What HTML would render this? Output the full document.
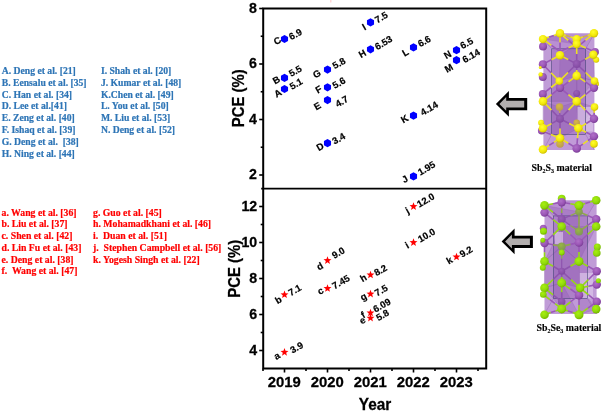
<!DOCTYPE html>
<html><head><meta charset="utf-8"><title>PCE vs Year</title>
<style>
html,body{margin:0;padding:0;background:#fff;}
body{width:602px;height:411px;overflow:hidden;position:relative;font-family:"Liberation Sans",sans-serif;}
svg{position:absolute;left:0;top:0;}
.ref{position:absolute;white-space:pre;font-family:"Liberation Serif",serif;font-weight:bold;font-size:9.68px;line-height:11.83px;-webkit-text-stroke:0.2px currentColor;}
.blue{color:#2e75b6;}
.red{color:#ff0000;line-height:11.72px;font-size:9.75px;}
.cap{position:absolute;white-space:pre;font-family:"Liberation Serif",serif;font-weight:bold;font-size:9.85px;color:#000;line-height:12px;-webkit-text-stroke:0.15px #000;}
.cap sub{font-size:6px;vertical-align:baseline;position:relative;top:2px;line-height:0;}
</style></head><body>

<div class="ref blue" id="bA" style="left:1.7px;top:64.9px">A. Deng et al. [21]
B. Eensalu et al. [35]
C. Han et al. [34]
D. Lee et al.[41]
E. Zeng et al. [40]
F. Ishaq et al. [39]
G. Deng et al.  [38]
H. Ning et al. [44]</div>
<div class="ref blue" id="bB" style="left:100.9px;top:64.9px">I. Shah et al. [20]
J. Kumar et al. [48]
K.Chen et al. [49]
L. You et al. [50]
M. Liu et al. [53]
N. Deng et al. [52]</div>
<div class="ref red" id="rA" style="left:1.5px;top:206.7px">a. Wang et al. [36]
b. Liu et al. [37]
c. Shen et al. [42]
d. Lin Fu et al. [43]
e. Deng et al. [38]
f.  Wang et al. [47]</div>
<div class="ref red" id="rB" style="left:93.0px;top:206.7px">g. Guo et al. [45]
h. Mohamadkhani et al. [46]
i.  Duan et al. [51]
j.  Stephen Campbell et al. [56]
k. Yogesh Singh et al. [22]</div>
<div class="cap" id="c1" style="left:531.6px;top:162px">Sb<sub>2</sub>S<sub>3</sub> material</div>
<div class="cap" id="c2" style="left:536.5px;top:321.9px">Sb<sub>2</sub>Se<sub>3</sub> material</div>
<svg width="602" height="411" viewBox="0 0 602 411" font-family="Liberation Sans, sans-serif" font-weight="bold">
<defs>
<radialGradient id="gy" cx="40%" cy="35%" r="70%"><stop offset="0" stop-color="#ffff30"/><stop offset="0.6" stop-color="#f2e80a"/><stop offset="1" stop-color="#c8b800"/></radialGradient>
<radialGradient id="gyd" cx="40%" cy="35%" r="70%"><stop offset="0" stop-color="#d8b848"/><stop offset="1" stop-color="#b89a50"/></radialGradient>
<radialGradient id="gg" cx="40%" cy="35%" r="70%"><stop offset="0" stop-color="#a8f010"/><stop offset="0.6" stop-color="#8fd808"/><stop offset="1" stop-color="#6fb000"/></radialGradient>
<radialGradient id="ggd" cx="40%" cy="35%" r="70%"><stop offset="0" stop-color="#98b840"/><stop offset="1" stop-color="#80925a"/></radialGradient>
<radialGradient id="gp" cx="40%" cy="35%" r="70%"><stop offset="0" stop-color="#b070c8"/><stop offset="0.6" stop-color="#9a55b5"/><stop offset="1" stop-color="#74388f"/></radialGradient>
<radialGradient id="gpd" cx="40%" cy="35%" r="70%"><stop offset="0" stop-color="#9a60b8"/><stop offset="1" stop-color="#8048a0"/></radialGradient>
<filter id="soft" x="-5%" y="-5%" width="110%" height="110%"><feGaussianBlur stdDeviation="0.35"/></filter>
</defs>
<g stroke="#000" stroke-width="2.0" fill="none">
<rect x="263.2" y="8.5" width="223" height="360"/>
<line x1="261.2" y1="188.6" x2="486.2" y2="188.6" stroke-width="1.9"/>
</g>
<g stroke="#000" stroke-width="1.6" fill="none">
<line x1="259.2" y1="175" x2="263.2" y2="175"/>
<line x1="259.2" y1="119.5" x2="263.2" y2="119.5"/>
<line x1="259.2" y1="64" x2="263.2" y2="64"/>
<line x1="259.2" y1="8.5" x2="263.2" y2="8.5"/>
<line x1="260.7" y1="147.25" x2="263.2" y2="147.25"/>
<line x1="260.7" y1="91.75" x2="263.2" y2="91.75"/>
<line x1="260.7" y1="36.25" x2="263.2" y2="36.25"/>
<line x1="259.2" y1="350.5" x2="263.2" y2="350.5"/>
<line x1="259.2" y1="314.5" x2="263.2" y2="314.5"/>
<line x1="259.2" y1="278.5" x2="263.2" y2="278.5"/>
<line x1="259.2" y1="242.5" x2="263.2" y2="242.5"/>
<line x1="259.2" y1="206.5" x2="263.2" y2="206.5"/>
<line x1="260.7" y1="332.5" x2="263.2" y2="332.5"/>
<line x1="260.7" y1="296.5" x2="263.2" y2="296.5"/>
<line x1="260.7" y1="260.5" x2="263.2" y2="260.5"/>
<line x1="260.7" y1="224.5" x2="263.2" y2="224.5"/>
<line x1="284.5" y1="368.5" x2="284.5" y2="372.5"/>
<line x1="327.5" y1="368.5" x2="327.5" y2="372.5"/>
<line x1="370.5" y1="368.5" x2="370.5" y2="372.5"/>
<line x1="413.5" y1="368.5" x2="413.5" y2="372.5"/>
<line x1="456.5" y1="368.5" x2="456.5" y2="372.5"/>
<line x1="263" y1="368.5" x2="263" y2="371"/>
<line x1="306" y1="368.5" x2="306" y2="371"/>
<line x1="349" y1="368.5" x2="349" y2="371"/>
<line x1="392" y1="368.5" x2="392" y2="371"/>
<line x1="435" y1="368.5" x2="435" y2="371"/>
<line x1="478" y1="368.5" x2="478" y2="371"/>
</g>
<g fill="#000" stroke="#000" stroke-width="0.25">
<text font-size="14.2" text-anchor="end" transform="translate(257,179.4) scale(1,1.085)">2</text>
<text font-size="14.2" text-anchor="end" transform="translate(257,123.9) scale(1,1.085)">4</text>
<text font-size="14.2" text-anchor="end" transform="translate(257,68.4) scale(1,1.085)">6</text>
<text font-size="14.2" text-anchor="end" transform="translate(257,12.9) scale(1,1.085)">8</text>
<text font-size="14.2" text-anchor="end" transform="translate(257.2,355.1) scale(1,1.085)">4</text>
<text font-size="14.2" text-anchor="end" transform="translate(257.2,319.1) scale(1,1.085)">6</text>
<text font-size="14.2" text-anchor="end" transform="translate(257.2,283.1) scale(1,1.085)">8</text>
<text font-size="14.2" text-anchor="end" transform="translate(257.2,247.1) scale(1,1.085)">10</text>
<text font-size="14.2" text-anchor="end" transform="translate(257.2,211.1) scale(1,1.085)">12</text>
<text font-size="14.9" text-anchor="middle" transform="translate(284.3,386.5) scale(1,1.045)">2019</text>
<text font-size="14.9" text-anchor="middle" transform="translate(327.3,386.5) scale(1,1.045)">2020</text>
<text font-size="14.9" text-anchor="middle" transform="translate(370.3,386.5) scale(1,1.045)">2021</text>
<text font-size="14.9" text-anchor="middle" transform="translate(413.3,386.5) scale(1,1.045)">2022</text>
<text font-size="14.9" text-anchor="middle" transform="translate(456.3,386.5) scale(1,1.045)">2023</text>
</g>
<text id="yl1" stroke="#000" stroke-width="0.25" font-size="14.9" text-anchor="middle" transform="translate(244.0,98.2) scale(1.09,1) rotate(-90)">PCE (%)</text>
<text id="yl2" stroke="#000" stroke-width="0.25" font-size="14.9" text-anchor="middle" transform="translate(240.4,268.8) scale(1.09,1) rotate(-90)">PCE (%)</text>
<text id="xl" font-size="15.4" text-anchor="middle" transform="translate(375,409.8) scale(1,1.03)" stroke="#000" stroke-width="0.25">Year</text>
<polygon points="284.50,84.88 280.95,86.93 280.95,91.03 284.50,93.08 288.05,91.03 288.05,86.93" fill="#0000ff"/>
<text stroke="#000" stroke-width="0.2" font-size="9.5" x="-3.43" y="3.27" transform="translate(277.8,93.1) rotate(-30)">A</text>
<text stroke="#000" stroke-width="0.2" font-size="9.5" x="-6.60" y="3.22" transform="translate(296.1,83.9) rotate(-30)">5.1</text>
<polygon points="284.50,73.78 280.95,75.83 280.95,79.92 284.50,81.97 288.05,79.92 288.05,75.83" fill="#0000ff"/>
<text stroke="#000" stroke-width="0.2" font-size="9.5" x="-3.43" y="3.27" transform="translate(276.4,79.9) rotate(-30)">B</text>
<text stroke="#000" stroke-width="0.2" font-size="9.5" x="-6.60" y="3.22" transform="translate(295.3,71.0) rotate(-30)">5.5</text>
<polygon points="284.50,34.92 280.95,36.97 280.95,41.07 284.50,43.12 288.05,41.07 288.05,36.97" fill="#0000ff"/>
<text stroke="#000" stroke-width="0.2" font-size="9.5" x="-3.43" y="3.27" transform="translate(277.4,40.7) rotate(-30)">C</text>
<text stroke="#000" stroke-width="0.2" font-size="9.5" x="-6.60" y="3.27" transform="translate(295.4,34.2) rotate(-30)">6.9</text>
<polygon points="327.50,138.99 323.95,141.04 323.95,145.14 327.50,147.19 331.05,145.14 331.05,141.04" fill="#0000ff"/>
<text stroke="#000" stroke-width="0.2" font-size="9.5" x="-3.43" y="3.27" transform="translate(320.1,146.6) rotate(-30)">D</text>
<text stroke="#000" stroke-width="0.2" font-size="9.5" x="-6.60" y="3.26" transform="translate(338.7,138.7) rotate(-30)">3.4</text>
<polygon points="327.50,95.97 323.95,98.02 323.95,102.12 327.50,104.17 331.05,102.12 331.05,98.02" fill="#0000ff"/>
<text stroke="#000" stroke-width="0.2" font-size="9.5" x="-3.17" y="3.27" transform="translate(317.3,106.2) rotate(-30)">E</text>
<text stroke="#000" stroke-width="0.2" font-size="9.5" x="-6.60" y="3.27" transform="translate(341.8,101.4) rotate(-30)">4.7</text>
<polygon points="327.50,83.21 323.95,85.26 323.95,89.36 327.50,91.41 331.05,89.36 331.05,85.26" fill="#0000ff"/>
<text stroke="#000" stroke-width="0.2" font-size="9.5" x="-2.90" y="3.27" transform="translate(318.7,89.4) rotate(-30)">F</text>
<text stroke="#000" stroke-width="0.2" font-size="9.5" x="-6.60" y="3.27" transform="translate(338.9,82.9) rotate(-30)">5.6</text>
<polygon points="327.50,65.45 323.95,67.50 323.95,71.60 327.50,73.65 331.05,71.60 331.05,67.50" fill="#0000ff"/>
<text stroke="#000" stroke-width="0.2" font-size="9.5" x="-3.70" y="3.27" transform="translate(316.8,73.9) rotate(-30)">G</text>
<text stroke="#000" stroke-width="0.2" font-size="9.5" x="-6.60" y="3.27" transform="translate(338.9,63.2) rotate(-30)">5.8</text>
<polygon points="370.50,45.19 366.95,47.24 366.95,51.34 370.50,53.39 374.05,51.34 374.05,47.24" fill="#0000ff"/>
<text stroke="#000" stroke-width="0.2" font-size="9.5" x="-3.43" y="3.27" transform="translate(362.4,53.8) rotate(-30)">H</text>
<text stroke="#000" stroke-width="0.2" font-size="9.5" x="-9.24" y="3.26" transform="translate(383.5,42.7) rotate(-30)">6.53</text>
<polygon points="370.50,18.27 366.95,20.32 366.95,24.43 370.50,26.48 374.05,24.43 374.05,20.32" fill="#0000ff"/>
<text stroke="#000" stroke-width="0.2" font-size="9.5" x="-1.32" y="3.27" transform="translate(364.1,26.9) rotate(-30)">I</text>
<text stroke="#000" stroke-width="0.2" font-size="9.5" x="-6.60" y="3.22" transform="translate(381.3,17.4) rotate(-30)">7.5</text>
<polygon points="413.50,172.29 409.95,174.34 409.95,178.44 413.50,180.49 417.05,178.44 417.05,174.34" fill="#0000ff"/>
<text stroke="#000" stroke-width="0.2" font-size="9.5" x="-2.64" y="3.22" transform="translate(405.0,179.2) rotate(-30)">J</text>
<text stroke="#000" stroke-width="0.2" font-size="9.5" x="-9.24" y="3.27" transform="translate(426.5,168.2) rotate(-30)">1.95</text>
<polygon points="413.50,111.52 409.95,113.57 409.95,117.67 413.50,119.72 417.05,117.67 417.05,113.57" fill="#0000ff"/>
<text stroke="#000" stroke-width="0.2" font-size="9.5" x="-3.43" y="3.27" transform="translate(404.6,119.0) rotate(-30)">K</text>
<text stroke="#000" stroke-width="0.2" font-size="9.5" x="-9.24" y="3.27" transform="translate(429.1,108.5) rotate(-30)">4.14</text>
<polygon points="413.50,43.25 409.95,45.30 409.95,49.40 413.50,51.45 417.05,49.40 417.05,45.30" fill="#0000ff"/>
<text stroke="#000" stroke-width="0.2" font-size="9.5" x="-2.90" y="3.27" transform="translate(405.3,52.4) rotate(-30)">L</text>
<text stroke="#000" stroke-width="0.2" font-size="9.5" x="-6.60" y="3.27" transform="translate(424.2,41.2) rotate(-30)">6.6</text>
<polygon points="456.50,56.02 452.95,58.07 452.95,62.17 456.50,64.22 460.05,62.17 460.05,58.07" fill="#0000ff"/>
<text stroke="#000" stroke-width="0.2" font-size="9.5" x="-3.96" y="3.27" transform="translate(448.7,68.2) rotate(-30)">M</text>
<text stroke="#000" stroke-width="0.2" font-size="9.5" x="-9.24" y="3.27" transform="translate(471.1,55.8) rotate(-30)">6.14</text>
<polygon points="456.50,46.02 452.95,48.08 452.95,52.17 456.50,54.23 460.05,52.18 460.05,48.08" fill="#0000ff"/>
<text stroke="#000" stroke-width="0.2" font-size="9.5" x="-3.43" y="3.27" transform="translate(447.6,54.7) rotate(-30)">N</text>
<text stroke="#000" stroke-width="0.2" font-size="9.5" x="-6.60" y="3.27" transform="translate(466.6,43.2) rotate(-30)">6.5</text>
<polygon points="284.50,348.10 283.46,350.87 280.51,351.00 282.82,352.85 282.03,355.70 284.50,354.06 286.97,355.70 286.18,352.85 288.49,351.00 285.54,350.87" fill="#ff0000"/>
<text stroke="#000" stroke-width="0.2" font-size="9.5" x="-2.67" y="2.51" transform="translate(277.2,356.4) rotate(-30)">a</text>
<text stroke="#000" stroke-width="0.2" font-size="9.5" x="-6.60" y="3.26" transform="translate(296.6,347.6) rotate(-30)">3.9</text>
<polygon points="284.50,290.50 283.46,293.27 280.51,293.40 282.82,295.25 282.03,298.10 284.50,296.46 286.97,298.10 286.18,295.25 288.49,293.40 285.54,293.27" fill="#ff0000"/>
<text stroke="#000" stroke-width="0.2" font-size="9.5" x="-2.90" y="3.40" transform="translate(278.2,299.9) rotate(-30)">b</text>
<text stroke="#000" stroke-width="0.2" font-size="9.5" x="-6.60" y="3.27" transform="translate(294.7,290.1) rotate(-30)">7.1</text>
<polygon points="327.50,284.20 326.46,286.97 323.51,287.10 325.82,288.95 325.03,291.80 327.50,290.16 329.97,291.80 329.18,288.95 331.49,287.10 328.54,286.97" fill="#ff0000"/>
<text stroke="#000" stroke-width="0.2" font-size="9.5" x="-2.64" y="2.51" transform="translate(320.7,291.5) rotate(-30)">c</text>
<text stroke="#000" stroke-width="0.2" font-size="9.5" x="-9.24" y="3.22" transform="translate(340.9,282.0) rotate(-30)">7.45</text>
<polygon points="327.50,256.30 326.46,259.07 323.51,259.20 325.82,261.05 325.03,263.90 327.50,262.26 329.97,263.90 329.18,261.05 331.49,259.20 328.54,259.07" fill="#ff0000"/>
<text stroke="#000" stroke-width="0.2" font-size="9.5" x="-2.90" y="3.40" transform="translate(319.7,266.0) rotate(-30)">d</text>
<text stroke="#000" stroke-width="0.2" font-size="9.5" x="-6.60" y="3.27" transform="translate(338.2,252.8) rotate(-30)">9.0</text>
<polygon points="370.50,313.90 369.46,316.67 366.51,316.80 368.82,318.65 368.03,321.50 370.50,319.86 372.97,321.50 372.18,318.65 374.49,316.80 371.54,316.67" fill="#ff0000"/>
<text stroke="#000" stroke-width="0.2" font-size="9.5" x="-2.64" y="2.51" transform="translate(362.8,320.9) rotate(-30)">e</text>
<text stroke="#000" stroke-width="0.2" font-size="9.5" x="-6.60" y="3.27" transform="translate(382.5,315.0) rotate(-30)">5.8</text>
<polygon points="370.50,308.68 369.46,311.45 366.51,311.58 368.82,313.43 368.03,316.28 370.50,314.64 372.97,316.28 372.18,313.43 374.49,311.58 371.54,311.45" fill="#ff0000"/>
<text stroke="#000" stroke-width="0.2" font-size="9.5" x="-1.59" y="3.44" transform="translate(362.8,314.6) rotate(-30)">f</text>
<text stroke="#000" stroke-width="0.2" font-size="9.5" x="-9.24" y="3.27" transform="translate(381.8,305.3) rotate(-30)">6.09</text>
<polygon points="370.50,289.78 369.46,292.55 366.51,292.68 368.82,294.53 368.03,297.38 370.50,295.74 372.97,297.38 372.18,294.53 374.49,292.68 371.54,292.55" fill="#ff0000"/>
<text stroke="#000" stroke-width="0.2" font-size="9.5" x="-2.90" y="1.55" transform="translate(364.3,298.2) rotate(-30)">g</text>
<text stroke="#000" stroke-width="0.2" font-size="9.5" x="-6.60" y="3.22" transform="translate(381.2,290.4) rotate(-30)">7.5</text>
<polygon points="370.50,270.70 369.46,273.47 366.51,273.60 368.82,275.45 368.03,278.30 370.50,276.66 372.97,278.30 372.18,275.45 374.49,273.60 371.54,273.47" fill="#ff0000"/>
<text stroke="#000" stroke-width="0.2" font-size="9.5" x="-2.90" y="3.44" transform="translate(363.3,277.9) rotate(-30)">h</text>
<text stroke="#000" stroke-width="0.2" font-size="9.5" x="-6.60" y="3.27" transform="translate(380.5,270.2) rotate(-30)">8.2</text>
<polygon points="413.50,238.30 412.46,241.07 409.51,241.20 411.82,243.05 411.03,245.90 413.50,244.26 415.97,245.90 415.18,243.05 417.49,241.20 414.54,241.07" fill="#ff0000"/>
<text stroke="#000" stroke-width="0.2" font-size="9.5" x="-1.32" y="3.44" transform="translate(406.8,245.2) rotate(-30)">i</text>
<text stroke="#000" stroke-width="0.2" font-size="9.5" x="-9.24" y="3.27" transform="translate(426.5,235.3) rotate(-30)">10.0</text>
<polygon points="413.50,202.30 412.46,205.07 409.51,205.20 411.82,207.05 411.03,209.90 413.50,208.26 415.97,209.90 415.18,207.05 417.49,205.20 414.54,205.07" fill="#ff0000"/>
<text stroke="#000" stroke-width="0.2" font-size="9.5" x="-1.24" y="2.46" transform="translate(407.5,211.2) rotate(-30)">j</text>
<text stroke="#000" stroke-width="0.2" font-size="9.5" x="-9.24" y="3.27" transform="translate(425.7,200.2) rotate(-30)">12.0</text>
<polygon points="456.50,252.70 455.46,255.47 452.51,255.60 454.82,257.45 454.03,260.30 456.50,258.66 458.97,260.30 458.18,257.45 460.49,255.60 457.54,255.47" fill="#ff0000"/>
<text stroke="#000" stroke-width="0.2" font-size="9.5" x="-2.65" y="3.44" transform="translate(449.2,260.3) rotate(-30)">k</text>
<text stroke="#000" stroke-width="0.2" font-size="9.5" x="-6.60" y="3.27" transform="translate(466.0,251.7) rotate(-30)">9.2</text>
<rect x="330" y="0" width="1.5" height="2.5" fill="#ffd9d9"/>
<polygon points="495.9,103.9 508.9,90.9 508.9,98.1 527.2,98.1 527.2,110.3 508.9,110.3 508.9,116.7" fill="#000"/><polygon points="499.4,103.9 506.2,97.0 506.2,100.8 524.2,100.8 524.2,107.5 506.2,107.5 506.2,110.8" fill="#b2aeae"/>
<polygon points="501.6,241.5 514.6,228.5 514.6,235.7 532.9,235.7 532.9,247.9 514.6,247.9 514.6,254.3" fill="#000"/><polygon points="505.1,241.5 511.9,234.6 511.9,238.4 529.9,238.4 529.9,245.1 511.9,245.1 511.9,248.4" fill="#b2aeae"/>
<g filter="url(#soft)">
<polygon points="543.4,39.5 559.9,33.5 594.4,33.5 594.4,150 543.4,150" fill="#c09cd7"/>
<polygon points="543.4,39.5 559.9,33.5 594.4,33.5 585.6,48.8 551.7,48.8" fill="#b98fd2"/>
<polygon points="543.4,150 594.4,150 585.6,134.3 551.7,134.3" fill="#c19ad8"/>
<rect x="551.7" y="48.8" width="33.9" height="85.5" fill="#ad80c8"/>
<polygon points="543.0,39.1 560.0,33.3 576.7,44.1" fill="#7a3fa0" fill-opacity="0.22" stroke="#8a56ac" stroke-opacity="0.5" stroke-width="0.5"/>
<polygon points="560.0,55.3 576.7,44.1 593.4,54.7 594.5,81.1 576.7,75.9 559.3,81.1" fill="#7a3fa0" fill-opacity="0.22" stroke="#8a56ac" stroke-opacity="0.5" stroke-width="0.5"/>
<polygon points="576.7,75.9 576.7,101.4 543.0,101.4" fill="#7a3fa0" fill-opacity="0.22" stroke="#8a56ac" stroke-opacity="0.5" stroke-width="0.5"/>
<polygon points="576.7,75.9 594.5,81.1 576.7,101.4" fill="#7a3fa0" fill-opacity="0.22" stroke="#8a56ac" stroke-opacity="0.5" stroke-width="0.5"/>
<polygon points="543.0,101.4 559.5,107.1 576.7,101.4 578.4,128.2 560.0,138.2 543.0,128.3" fill="#7a3fa0" fill-opacity="0.22" stroke="#8a56ac" stroke-opacity="0.5" stroke-width="0.5"/>
<polygon points="576.7,101.4 594.5,107.1 578.4,128.2" fill="#7a3fa0" fill-opacity="0.22" stroke="#8a56ac" stroke-opacity="0.5" stroke-width="0.5"/>
<rect x="577.5" y="107" width="15.5" height="24.5" fill="#dcc6ea" fill-opacity="0.7"/>
<rect x="551.7" y="48.8" width="33.9" height="85.5" fill="none" stroke="#46467a" stroke-width="0.6"/>
<g stroke="#8d62ad" stroke-width="0.5" stroke-opacity="0.8"><line x1="543.4" y1="39.5" x2="551.7" y2="48.8"/><line x1="594.4" y1="33.5" x2="585.6" y2="48.8"/><line x1="543.4" y1="150" x2="551.7" y2="134.3"/><line x1="594.4" y1="150" x2="585.6" y2="134.3"/></g>
<line x1="543.0" y1="39.1" x2="551.5" y2="45.3" stroke="#ece024" stroke-width="1.6"/>
<line x1="551.5" y1="45.3" x2="560.0" y2="51.5" stroke="#9a58b8" stroke-width="1.6"/>
<line x1="560.0" y1="33.3" x2="560.0" y2="42.4" stroke="#ece024" stroke-width="1.6"/>
<line x1="560.0" y1="42.4" x2="560.0" y2="51.5" stroke="#9a58b8" stroke-width="1.6"/>
<line x1="576.7" y1="44.1" x2="568.4" y2="47.8" stroke="#ece024" stroke-width="1.6"/>
<line x1="568.4" y1="47.8" x2="560.0" y2="51.5" stroke="#9a58b8" stroke-width="1.6"/>
<line x1="560.0" y1="33.3" x2="568.4" y2="40.4" stroke="#ece024" stroke-width="1.6"/>
<line x1="568.4" y1="40.4" x2="576.7" y2="47.5" stroke="#9a58b8" stroke-width="1.6"/>
<line x1="594.0" y1="33.3" x2="585.4" y2="40.4" stroke="#ece024" stroke-width="1.6"/>
<line x1="585.4" y1="40.4" x2="576.7" y2="47.5" stroke="#9a58b8" stroke-width="1.6"/>
<line x1="576.7" y1="44.1" x2="576.7" y2="54.0" stroke="#ece024" stroke-width="1.6"/>
<line x1="576.7" y1="54.0" x2="576.7" y2="64.0" stroke="#8e54ae" stroke-width="1.6"/>
<line x1="560.0" y1="55.3" x2="568.4" y2="59.6" stroke="#ece024" stroke-width="1.6"/>
<line x1="568.4" y1="59.6" x2="576.7" y2="64.0" stroke="#8e54ae" stroke-width="1.6"/>
<line x1="593.4" y1="54.7" x2="585.0" y2="59.4" stroke="#ece024" stroke-width="1.6"/>
<line x1="585.0" y1="59.4" x2="576.7" y2="64.0" stroke="#8e54ae" stroke-width="1.6"/>
<line x1="576.7" y1="75.9" x2="576.7" y2="70.0" stroke="#ece024" stroke-width="1.6"/>
<line x1="576.7" y1="70.0" x2="576.7" y2="64.0" stroke="#8e54ae" stroke-width="1.6"/>
<line x1="543.0" y1="101.4" x2="551.5" y2="110.1" stroke="#ece024" stroke-width="1.6"/>
<line x1="551.5" y1="110.1" x2="560.0" y2="118.8" stroke="#8e54ae" stroke-width="1.6"/>
<line x1="576.7" y1="101.4" x2="568.4" y2="110.1" stroke="#ece024" stroke-width="1.6"/>
<line x1="568.4" y1="110.1" x2="560.0" y2="118.8" stroke="#8e54ae" stroke-width="1.6"/>
<line x1="559.5" y1="107.1" x2="559.8" y2="112.9" stroke="#cdb04e" stroke-width="1.2"/>
<line x1="559.8" y1="112.9" x2="560.0" y2="118.8" stroke="#8e54ae" stroke-width="1.2"/>
<line x1="560.0" y1="118.8" x2="551.5" y2="123.6" stroke="#8e54ae" stroke-width="1.6"/>
<line x1="551.5" y1="123.6" x2="543.0" y2="128.3" stroke="#ece024" stroke-width="1.6"/>
<line x1="560.0" y1="118.8" x2="569.2" y2="123.5" stroke="#8e54ae" stroke-width="1.6"/>
<line x1="569.2" y1="123.5" x2="578.4" y2="128.2" stroke="#ece024" stroke-width="1.6"/>
<line x1="560.0" y1="118.8" x2="560.0" y2="128.5" stroke="#8e54ae" stroke-width="1.6"/>
<line x1="560.0" y1="128.5" x2="560.0" y2="138.2" stroke="#ece024" stroke-width="1.6"/>
<line x1="576.7" y1="64.0" x2="568.0" y2="72.5" stroke="#8e54ae" stroke-width="1.6"/>
<line x1="568.0" y1="72.5" x2="559.3" y2="81.1" stroke="#ece024" stroke-width="1.6"/>
<line x1="576.7" y1="64.0" x2="585.6" y2="72.5" stroke="#8e54ae" stroke-width="1.6"/>
<line x1="585.6" y1="72.5" x2="594.5" y2="81.1" stroke="#ece024" stroke-width="1.6"/>
<line x1="576.7" y1="44.1" x2="585.9" y2="48.0" stroke="#ece024" stroke-width="1.6"/>
<line x1="585.9" y1="48.0" x2="595.1" y2="51.9" stroke="#9a58b8" stroke-width="1.6"/>
<line x1="560.0" y1="55.3" x2="551.4" y2="59.8" stroke="#ece024" stroke-width="1.6"/>
<line x1="551.4" y1="59.8" x2="542.8" y2="64.3" stroke="#9a58b8" stroke-width="1.6"/>
<line x1="576.7" y1="75.9" x2="568.4" y2="81.8" stroke="#ece024" stroke-width="1.6"/>
<line x1="568.4" y1="81.8" x2="560.0" y2="87.8" stroke="#9a58b8" stroke-width="1.6"/>
<line x1="576.7" y1="75.9" x2="585.4" y2="81.8" stroke="#ece024" stroke-width="1.6"/>
<line x1="585.4" y1="81.8" x2="594.0" y2="87.8" stroke="#9a58b8" stroke-width="1.6"/>
<line x1="559.3" y1="81.1" x2="551.0" y2="72.7" stroke="#ece024" stroke-width="1.6"/>
<line x1="551.0" y1="72.7" x2="542.8" y2="64.3" stroke="#9a58b8" stroke-width="1.6"/>
<line x1="559.3" y1="81.1" x2="551.0" y2="87.5" stroke="#ece024" stroke-width="1.6"/>
<line x1="551.0" y1="87.5" x2="542.8" y2="93.9" stroke="#9a58b8" stroke-width="1.6"/>
<line x1="560.0" y1="87.8" x2="551.5" y2="94.6" stroke="#9a58b8" stroke-width="1.6"/>
<line x1="551.5" y1="94.6" x2="543.0" y2="101.4" stroke="#ece024" stroke-width="1.6"/>
<line x1="560.0" y1="87.8" x2="568.4" y2="94.6" stroke="#9a58b8" stroke-width="1.6"/>
<line x1="568.4" y1="94.6" x2="576.7" y2="101.4" stroke="#ece024" stroke-width="1.6"/>
<line x1="594.0" y1="87.8" x2="585.4" y2="94.6" stroke="#9a58b8" stroke-width="1.6"/>
<line x1="585.4" y1="94.6" x2="576.7" y2="101.4" stroke="#ece024" stroke-width="1.6"/>
<line x1="542.8" y1="93.9" x2="542.9" y2="97.7" stroke="#9a58b8" stroke-width="1.6"/>
<line x1="542.9" y1="97.7" x2="543.0" y2="101.4" stroke="#ece024" stroke-width="1.6"/>
<line x1="594.5" y1="81.1" x2="594.2" y2="84.4" stroke="#ece024" stroke-width="1.6"/>
<line x1="594.2" y1="84.4" x2="594.0" y2="87.8" stroke="#9a58b8" stroke-width="1.6"/>
<line x1="576.7" y1="101.4" x2="585.4" y2="110.1" stroke="#ece024" stroke-width="1.6"/>
<line x1="585.4" y1="110.1" x2="594.0" y2="118.8" stroke="#9a58b8" stroke-width="1.6"/>
<line x1="594.5" y1="107.1" x2="594.2" y2="112.9" stroke="#ece024" stroke-width="1.6"/>
<line x1="594.2" y1="112.9" x2="594.0" y2="118.8" stroke="#9a58b8" stroke-width="1.6"/>
<line x1="578.4" y1="128.2" x2="586.2" y2="123.5" stroke="#ece024" stroke-width="1.6"/>
<line x1="586.2" y1="123.5" x2="594.0" y2="118.8" stroke="#9a58b8" stroke-width="1.6"/>
<line x1="578.4" y1="128.2" x2="586.2" y2="132.3" stroke="#ece024" stroke-width="1.6"/>
<line x1="586.2" y1="132.3" x2="594.0" y2="136.4" stroke="#9a58b8" stroke-width="1.6"/>
<line x1="578.4" y1="128.2" x2="577.5" y2="138.3" stroke="#ece024" stroke-width="1.6"/>
<line x1="577.5" y1="138.3" x2="576.7" y2="148.4" stroke="#9a58b8" stroke-width="1.6"/>
<line x1="541.7" y1="130.8" x2="550.9" y2="134.5" stroke="#9a58b8" stroke-width="1.6"/>
<line x1="550.9" y1="134.5" x2="560.0" y2="138.2" stroke="#ece024" stroke-width="1.6"/>
<line x1="560.0" y1="138.2" x2="568.4" y2="143.3" stroke="#ece024" stroke-width="1.6"/>
<line x1="568.4" y1="143.3" x2="576.7" y2="148.4" stroke="#9a58b8" stroke-width="1.6"/>
<line x1="594.0" y1="136.4" x2="594.0" y2="140.2" stroke="#9a58b8" stroke-width="1.6"/>
<line x1="594.0" y1="140.2" x2="594.0" y2="143.9" stroke="#ece024" stroke-width="1.6"/>
<line x1="594.0" y1="136.4" x2="587.8" y2="140.7" stroke="#9a58b8" stroke-width="1.6"/>
<line x1="587.8" y1="140.7" x2="582.9" y2="144.1" stroke="#ece024" stroke-width="1.6"/>
<line x1="582.9" y1="144.1" x2="576.7" y2="148.4" stroke="#9a58b8" stroke-width="1.6"/>
<line x1="543.0" y1="46.4" x2="543.0" y2="42.8" stroke="#9a58b8" stroke-width="1.6"/>
<line x1="543.0" y1="42.8" x2="543.0" y2="39.1" stroke="#ece024" stroke-width="1.6"/>
<line x1="542.8" y1="76.9" x2="541.7" y2="75.7" stroke="#9a58b8" stroke-width="1.6"/>
<line x1="541.7" y1="75.7" x2="540.6" y2="74.5" stroke="#ece024" stroke-width="1.6"/>
<line x1="543.0" y1="39.1" x2="549.1" y2="37.0" stroke="#ece024" stroke-width="1.6"/>
<line x1="549.1" y1="37.0" x2="553.9" y2="35.4" stroke="#9a58b8" stroke-width="1.6"/>
<line x1="553.9" y1="35.4" x2="560.0" y2="33.3" stroke="#ece024" stroke-width="1.6"/>
<line x1="560.0" y1="33.3" x2="566.0" y2="35.4" stroke="#ece024" stroke-width="1.6"/>
<line x1="566.0" y1="35.4" x2="570.7" y2="37.0" stroke="#cdb04e" stroke-width="1.6"/>
<line x1="570.7" y1="37.0" x2="576.7" y2="39.1" stroke="#ece024" stroke-width="1.6"/>
<line x1="576.7" y1="39.1" x2="582.9" y2="37.0" stroke="#ece024" stroke-width="1.6"/>
<line x1="582.9" y1="37.0" x2="587.8" y2="35.4" stroke="#cdb04e" stroke-width="1.6"/>
<line x1="587.8" y1="35.4" x2="594.0" y2="33.3" stroke="#ece024" stroke-width="1.6"/>
<line x1="560.0" y1="138.2" x2="553.9" y2="142.3" stroke="#ece024" stroke-width="1.6"/>
<line x1="553.9" y1="142.3" x2="549.1" y2="145.4" stroke="#9a58b8" stroke-width="1.6"/>
<line x1="549.1" y1="145.4" x2="543.0" y2="149.5" stroke="#ece024" stroke-width="1.6"/>
<circle cx="576.7" cy="64.0" r="4.0" fill="url(#gpd)"/>
<circle cx="576.7" cy="93.4" r="3.5" fill="url(#gpd)"/>
<circle cx="560.0" cy="118.8" r="4.0" fill="url(#gpd)"/>
<circle cx="559.5" cy="107.1" r="3.8" fill="url(#gyd)"/>
<circle cx="576.7" cy="122.7" r="3.3" fill="url(#gyd)"/>
<circle cx="560.0" cy="143.9" r="3.8" fill="url(#gyd)"/>
<circle cx="596.2" cy="59.7" r="3.0" fill="url(#gy)"/>
<circle cx="596.2" cy="83.9" r="2.8" fill="url(#gy)"/>
<circle cx="543.0" cy="46.4" r="4.0" fill="url(#gp)"/>
<circle cx="595.1" cy="51.9" r="3.8" fill="url(#gp)"/>
<circle cx="542.8" cy="64.3" r="4.0" fill="url(#gp)"/>
<circle cx="542.8" cy="76.9" r="4.0" fill="url(#gp)"/>
<circle cx="560.0" cy="87.8" r="4.2" fill="url(#gp)"/>
<circle cx="594.0" cy="87.8" r="4.2" fill="url(#gp)"/>
<circle cx="542.8" cy="93.9" r="4.0" fill="url(#gp)"/>
<circle cx="594.0" cy="118.8" r="4.2" fill="url(#gp)"/>
<circle cx="541.7" cy="130.8" r="3.8" fill="url(#gp)"/>
<circle cx="594.0" cy="136.4" r="4.2" fill="url(#gp)"/>
<circle cx="576.7" cy="148.4" r="4.3" fill="url(#gp)"/>
<circle cx="560.0" cy="33.3" r="4.2" fill="url(#gy)"/>
<circle cx="594.0" cy="33.3" r="4.2" fill="url(#gy)"/>
<circle cx="543.0" cy="39.1" r="4.2" fill="url(#gy)"/>
<circle cx="576.7" cy="39.1" r="4.2" fill="url(#gy)"/>
<circle cx="576.7" cy="44.1" r="4.2" fill="url(#gy)"/>
<circle cx="593.4" cy="54.7" r="4.2" fill="url(#gy)"/>
<circle cx="560.0" cy="55.3" r="4.2" fill="url(#gy)"/>
<circle cx="540.3" cy="67.5" r="1.5" fill="url(#gy)"/>
<circle cx="540.6" cy="74.5" r="2.2" fill="url(#gy)"/>
<circle cx="576.7" cy="75.9" r="4.3" fill="url(#gy)"/>
<circle cx="559.3" cy="81.1" r="3.8" fill="url(#gy)"/>
<circle cx="594.5" cy="81.1" r="3.8" fill="url(#gy)"/>
<circle cx="543.0" cy="101.4" r="4.3" fill="url(#gy)"/>
<circle cx="576.7" cy="101.4" r="4.3" fill="url(#gy)"/>
<circle cx="594.5" cy="107.1" r="3.8" fill="url(#gy)"/>
<circle cx="541.1" cy="122.7" r="3.0" fill="url(#gy)"/>
<circle cx="578.4" cy="128.2" r="4.3" fill="url(#gy)"/>
<circle cx="543.0" cy="128.3" r="4.3" fill="url(#gy)"/>
<circle cx="560.0" cy="138.2" r="4.3" fill="url(#gy)"/>
<circle cx="594.0" cy="143.9" r="3.8" fill="url(#gy)"/>
<circle cx="543.0" cy="149.5" r="4.3" fill="url(#gy)"/>
</g>
<g filter="url(#soft)">
<polygon points="544.5,206.5 561.5,200.5 596.6,200.5 596.6,313.9 544.5,313.9" fill="#c09cd7"/>
<polygon points="544.5,206.5 561.5,200.5 596.6,200.5 587.3,215.9 553.4,215.9" fill="#b98fd2"/>
<polygon points="544.5,313.9 596.6,313.9 587.3,298.5 553.4,298.5" fill="#c19ad8"/>
<rect x="553.4" y="215.9" width="33.9" height="82.6" fill="#ad80c8"/>
<polygon points="544.5,205.4 579.0,211.8 579.0,231.5" fill="#7a3fa0" fill-opacity="0.22" stroke="#8a56ac" stroke-opacity="0.5" stroke-width="0.5"/>
<polygon points="561.7,226.5 561.7,246.4 544.5,261.4" fill="#7a3fa0" fill-opacity="0.22" stroke="#8a56ac" stroke-opacity="0.5" stroke-width="0.5"/>
<polygon points="561.7,226.5 596.2,226.5 579.0,261.4 561.7,246.4" fill="#7a3fa0" fill-opacity="0.22" stroke="#8a56ac" stroke-opacity="0.5" stroke-width="0.5"/>
<polygon points="544.5,261.4 561.7,246.4 579.0,261.4 580.1,287.9 561.7,282.9 544.5,287.9" fill="#7a3fa0" fill-opacity="0.22" stroke="#8a56ac" stroke-opacity="0.5" stroke-width="0.5"/>
<polygon points="561.7,282.9 579.0,314.7 561.7,308.9" fill="#7a3fa0" fill-opacity="0.22" stroke="#8a56ac" stroke-opacity="0.5" stroke-width="0.5"/>
<polygon points="580.1,287.9 596.2,309.1 579.0,314.7" fill="#7a3fa0" fill-opacity="0.22" stroke="#8a56ac" stroke-opacity="0.5" stroke-width="0.5"/>
<polygon points="544.5,287.9 561.7,282.9 561.7,308.9" fill="#7a3fa0" fill-opacity="0.22" stroke="#8a56ac" stroke-opacity="0.5" stroke-width="0.5"/>
<rect x="579.8" y="273" width="13.2" height="25.5" fill="#dcc6ea" fill-opacity="0.7"/>
<rect x="555" y="232" width="8" height="12" fill="#dcc6ea" fill-opacity="0.7"/>
<rect x="553.4" y="215.9" width="33.9" height="82.6" fill="none" stroke="#46467a" stroke-width="0.6"/>
<g stroke="#8d62ad" stroke-width="0.5" stroke-opacity="0.8"><line x1="544.5" y1="206.5" x2="553.4" y2="215.9"/><line x1="596.6" y1="200.5" x2="587.3" y2="215.9"/><line x1="544.5" y1="313.9" x2="553.4" y2="298.5"/><line x1="596.6" y1="313.9" x2="587.3" y2="298.5"/></g>
<line x1="544.5" y1="205.4" x2="553.1" y2="212.4" stroke="#96d816" stroke-width="1.6"/>
<line x1="553.1" y1="212.4" x2="561.7" y2="219.3" stroke="#8e54ae" stroke-width="1.6"/>
<line x1="561.7" y1="202.2" x2="561.7" y2="208.4" stroke="#9a58b8" stroke-width="1.6"/>
<line x1="561.7" y1="208.4" x2="561.7" y2="213.1" stroke="#90a84c" stroke-width="1.6"/>
<line x1="561.7" y1="213.1" x2="561.7" y2="219.3" stroke="#8e54ae" stroke-width="1.6"/>
<line x1="579.0" y1="211.8" x2="570.4" y2="215.6" stroke="#90a84c" stroke-width="1.2"/>
<line x1="570.4" y1="215.6" x2="561.7" y2="219.3" stroke="#8e54ae" stroke-width="1.2"/>
<line x1="561.7" y1="219.3" x2="570.4" y2="225.4" stroke="#8e54ae" stroke-width="1.2"/>
<line x1="570.4" y1="225.4" x2="579.0" y2="231.5" stroke="#90a84c" stroke-width="1.2"/>
<line x1="561.7" y1="246.4" x2="561.7" y2="258.8" stroke="#90a84c" stroke-width="1.2"/>
<line x1="561.7" y1="258.8" x2="561.7" y2="271.2" stroke="#8e54ae" stroke-width="1.2"/>
<line x1="579.0" y1="261.4" x2="570.4" y2="266.3" stroke="#96d816" stroke-width="1.6"/>
<line x1="570.4" y1="266.3" x2="561.7" y2="271.2" stroke="#8e54ae" stroke-width="1.6"/>
<line x1="544.5" y1="261.4" x2="553.1" y2="266.3" stroke="#96d816" stroke-width="1.6"/>
<line x1="553.1" y1="266.3" x2="561.7" y2="271.2" stroke="#8e54ae" stroke-width="1.6"/>
<line x1="561.7" y1="271.2" x2="561.7" y2="277.0" stroke="#8e54ae" stroke-width="1.6"/>
<line x1="561.7" y1="277.0" x2="561.7" y2="282.9" stroke="#96d816" stroke-width="1.6"/>
<line x1="544.5" y1="287.9" x2="553.1" y2="294.8" stroke="#96d816" stroke-width="1.6"/>
<line x1="553.1" y1="294.8" x2="561.7" y2="301.7" stroke="#8e54ae" stroke-width="1.6"/>
<line x1="561.7" y1="301.7" x2="561.7" y2="305.3" stroke="#8e54ae" stroke-width="1.6"/>
<line x1="561.7" y1="305.3" x2="561.7" y2="308.9" stroke="#96d816" stroke-width="1.6"/>
<line x1="561.7" y1="282.9" x2="561.7" y2="292.3" stroke="#96d816" stroke-width="1.6"/>
<line x1="561.7" y1="292.3" x2="561.7" y2="301.7" stroke="#8e54ae" stroke-width="1.6"/>
<line x1="544.5" y1="287.9" x2="553.1" y2="279.5" stroke="#96d816" stroke-width="1.6"/>
<line x1="553.1" y1="279.5" x2="561.7" y2="271.2" stroke="#8e54ae" stroke-width="1.6"/>
<line x1="580.1" y1="287.9" x2="570.9" y2="279.5" stroke="#96d816" stroke-width="1.6"/>
<line x1="570.9" y1="279.5" x2="561.7" y2="271.2" stroke="#8e54ae" stroke-width="1.6"/>
<line x1="579.0" y1="211.8" x2="587.6" y2="215.6" stroke="#90a84c" stroke-width="1.6"/>
<line x1="587.6" y1="215.6" x2="596.2" y2="219.3" stroke="#9a58b8" stroke-width="1.6"/>
<line x1="596.2" y1="219.3" x2="587.6" y2="225.4" stroke="#9a58b8" stroke-width="1.6"/>
<line x1="587.6" y1="225.4" x2="579.0" y2="231.5" stroke="#90a84c" stroke-width="1.6"/>
<line x1="579.0" y1="231.5" x2="579.0" y2="224.4" stroke="#90a84c" stroke-width="1.6"/>
<line x1="579.0" y1="224.4" x2="579.0" y2="218.9" stroke="#90a84c" stroke-width="1.6"/>
<line x1="579.0" y1="218.9" x2="579.0" y2="211.8" stroke="#90a84c" stroke-width="1.6"/>
<line x1="544.5" y1="243.0" x2="553.1" y2="244.7" stroke="#9a58b8" stroke-width="1.6"/>
<line x1="553.1" y1="244.7" x2="561.7" y2="246.4" stroke="#90a84c" stroke-width="1.6"/>
<line x1="579.0" y1="242.5" x2="570.4" y2="244.4" stroke="#9a58b8" stroke-width="1.6"/>
<line x1="570.4" y1="244.4" x2="561.7" y2="246.4" stroke="#90a84c" stroke-width="1.6"/>
<line x1="544.5" y1="205.4" x2="553.1" y2="203.8" stroke="#96d816" stroke-width="1.6"/>
<line x1="553.1" y1="203.8" x2="561.7" y2="202.2" stroke="#9a58b8" stroke-width="1.6"/>
<line x1="561.7" y1="202.2" x2="570.4" y2="203.8" stroke="#9a58b8" stroke-width="1.6"/>
<line x1="570.4" y1="203.8" x2="579.0" y2="205.4" stroke="#96d816" stroke-width="1.6"/>
<line x1="544.5" y1="212.6" x2="553.1" y2="219.6" stroke="#9a58b8" stroke-width="1.6"/>
<line x1="553.1" y1="219.6" x2="561.7" y2="226.5" stroke="#96d816" stroke-width="1.6"/>
<line x1="561.7" y1="226.5" x2="553.1" y2="234.8" stroke="#96d816" stroke-width="1.6"/>
<line x1="553.1" y1="234.8" x2="544.5" y2="243.0" stroke="#9a58b8" stroke-width="1.6"/>
<line x1="561.7" y1="226.5" x2="570.4" y2="234.5" stroke="#96d816" stroke-width="1.6"/>
<line x1="570.4" y1="234.5" x2="579.0" y2="242.5" stroke="#9a58b8" stroke-width="1.6"/>
<line x1="596.2" y1="226.5" x2="587.6" y2="234.5" stroke="#96d816" stroke-width="1.6"/>
<line x1="587.6" y1="234.5" x2="579.0" y2="242.5" stroke="#9a58b8" stroke-width="1.6"/>
<line x1="579.0" y1="242.5" x2="579.0" y2="251.9" stroke="#9a58b8" stroke-width="1.6"/>
<line x1="579.0" y1="251.9" x2="579.0" y2="261.4" stroke="#96d816" stroke-width="1.6"/>
<line x1="579.0" y1="261.4" x2="587.9" y2="266.3" stroke="#96d816" stroke-width="1.6"/>
<line x1="587.9" y1="266.3" x2="596.8" y2="271.2" stroke="#9a58b8" stroke-width="1.6"/>
<line x1="544.5" y1="261.4" x2="544.5" y2="252.2" stroke="#96d816" stroke-width="1.6"/>
<line x1="544.5" y1="252.2" x2="544.5" y2="243.0" stroke="#9a58b8" stroke-width="1.6"/>
<line x1="561.7" y1="282.9" x2="570.4" y2="289.0" stroke="#96d816" stroke-width="1.6"/>
<line x1="570.4" y1="289.0" x2="579.0" y2="295.1" stroke="#9a58b8" stroke-width="1.6"/>
<line x1="580.1" y1="287.9" x2="588.5" y2="279.5" stroke="#96d816" stroke-width="1.6"/>
<line x1="588.5" y1="279.5" x2="596.8" y2="271.2" stroke="#9a58b8" stroke-width="1.6"/>
<line x1="580.1" y1="287.9" x2="588.5" y2="286.2" stroke="#96d816" stroke-width="1.6"/>
<line x1="588.5" y1="286.2" x2="596.8" y2="284.6" stroke="#9a58b8" stroke-width="1.6"/>
<line x1="580.1" y1="287.9" x2="588.5" y2="294.8" stroke="#96d816" stroke-width="1.6"/>
<line x1="588.5" y1="294.8" x2="596.8" y2="301.7" stroke="#9a58b8" stroke-width="1.6"/>
<line x1="579.0" y1="295.1" x2="570.4" y2="302.0" stroke="#9a58b8" stroke-width="1.6"/>
<line x1="570.4" y1="302.0" x2="561.7" y2="308.9" stroke="#96d816" stroke-width="1.6"/>
<line x1="579.0" y1="295.1" x2="579.0" y2="304.9" stroke="#9a58b8" stroke-width="1.6"/>
<line x1="579.0" y1="304.9" x2="579.0" y2="314.7" stroke="#96d816" stroke-width="1.6"/>
<line x1="596.8" y1="301.7" x2="587.9" y2="308.2" stroke="#9a58b8" stroke-width="1.6"/>
<line x1="587.9" y1="308.2" x2="579.0" y2="314.7" stroke="#96d816" stroke-width="1.6"/>
<line x1="596.8" y1="301.7" x2="596.5" y2="305.4" stroke="#9a58b8" stroke-width="1.6"/>
<line x1="596.5" y1="305.4" x2="596.2" y2="309.1" stroke="#96d816" stroke-width="1.6"/>
<line x1="579.0" y1="205.4" x2="585.2" y2="203.6" stroke="#96d816" stroke-width="1.6"/>
<line x1="585.2" y1="203.6" x2="590.0" y2="202.1" stroke="#9a58b8" stroke-width="1.6"/>
<line x1="590.0" y1="202.1" x2="596.2" y2="200.3" stroke="#96d816" stroke-width="1.6"/>
<line x1="543.3" y1="294.5" x2="549.9" y2="299.7" stroke="#96d816" stroke-width="1.6"/>
<line x1="549.9" y1="299.7" x2="555.1" y2="303.7" stroke="#9a58b8" stroke-width="1.6"/>
<line x1="555.1" y1="303.7" x2="561.7" y2="308.9" stroke="#96d816" stroke-width="1.6"/>
<line x1="561.7" y1="308.9" x2="555.5" y2="311.0" stroke="#96d816" stroke-width="1.6"/>
<line x1="555.5" y1="311.0" x2="550.7" y2="312.6" stroke="#9a58b8" stroke-width="1.6"/>
<line x1="550.7" y1="312.6" x2="544.5" y2="314.7" stroke="#96d816" stroke-width="1.6"/>
<line x1="561.7" y1="308.9" x2="567.9" y2="311.0" stroke="#96d816" stroke-width="1.6"/>
<line x1="567.9" y1="311.0" x2="572.8" y2="312.6" stroke="#9a58b8" stroke-width="1.6"/>
<line x1="572.8" y1="312.6" x2="579.0" y2="314.7" stroke="#96d816" stroke-width="1.6"/>
<circle cx="561.7" cy="219.3" r="4.0" fill="url(#gpd)"/>
<circle cx="561.7" cy="271.2" r="3.5" fill="url(#gpd)"/>
<circle cx="561.7" cy="301.7" r="3.8" fill="url(#gpd)"/>
<circle cx="579.0" cy="211.8" r="3.8" fill="url(#ggd)"/>
<circle cx="579.0" cy="231.5" r="4.0" fill="url(#ggd)"/>
<circle cx="561.7" cy="246.4" r="4.0" fill="url(#ggd)"/>
<circle cx="561.7" cy="198.6" r="3.9" fill="url(#gg)"/>
<circle cx="561.7" cy="202.2" r="4.2" fill="url(#gp)"/>
<circle cx="544.5" cy="212.6" r="4.2" fill="url(#gp)"/>
<circle cx="596.2" cy="219.3" r="4.2" fill="url(#gp)"/>
<circle cx="543.3" cy="228.2" r="3.5" fill="url(#gp)"/>
<circle cx="579.0" cy="242.5" r="4.3" fill="url(#gp)"/>
<circle cx="544.5" cy="243.0" r="4.2" fill="url(#gp)"/>
<circle cx="596.8" cy="271.2" r="4.2" fill="url(#gp)"/>
<circle cx="596.8" cy="284.6" r="4.2" fill="url(#gp)"/>
<circle cx="579.0" cy="295.1" r="4.3" fill="url(#gp)"/>
<circle cx="596.8" cy="301.7" r="4.2" fill="url(#gp)"/>
<circle cx="596.2" cy="200.3" r="4.3" fill="url(#gg)"/>
<circle cx="544.5" cy="205.4" r="4.3" fill="url(#gg)"/>
<circle cx="579.0" cy="205.4" r="4.5" fill="url(#gg)"/>
<circle cx="561.7" cy="226.5" r="4.3" fill="url(#gg)"/>
<circle cx="596.2" cy="226.5" r="4.3" fill="url(#gg)"/>
<circle cx="543.5" cy="231.2" r="3.5" fill="url(#gg)"/>
<circle cx="542.8" cy="240.2" r="2.5" fill="url(#gg)"/>
<circle cx="597.3" cy="246.9" r="3.5" fill="url(#gg)"/>
<circle cx="561.7" cy="252.5" r="3.0" fill="url(#gg)"/>
<circle cx="596.8" cy="253.0" r="3.8" fill="url(#gg)"/>
<circle cx="544.5" cy="261.4" r="4.3" fill="url(#gg)"/>
<circle cx="579.0" cy="261.4" r="4.5" fill="url(#gg)"/>
<circle cx="542.8" cy="267.7" r="3.0" fill="url(#gg)"/>
<circle cx="598.4" cy="280.7" r="2.5" fill="url(#gg)"/>
<circle cx="561.7" cy="282.9" r="4.5" fill="url(#gg)"/>
<circle cx="544.5" cy="287.9" r="4.3" fill="url(#gg)"/>
<circle cx="580.1" cy="287.9" r="4.3" fill="url(#gg)"/>
<circle cx="543.3" cy="294.5" r="3.3" fill="url(#gg)"/>
<circle cx="561.7" cy="308.9" r="4.5" fill="url(#gg)"/>
<circle cx="596.2" cy="309.1" r="4.3" fill="url(#gg)"/>
<circle cx="544.5" cy="314.7" r="4.3" fill="url(#gg)"/>
<circle cx="579.0" cy="314.7" r="4.5" fill="url(#gg)"/>
</g>
</svg>
</body></html>
